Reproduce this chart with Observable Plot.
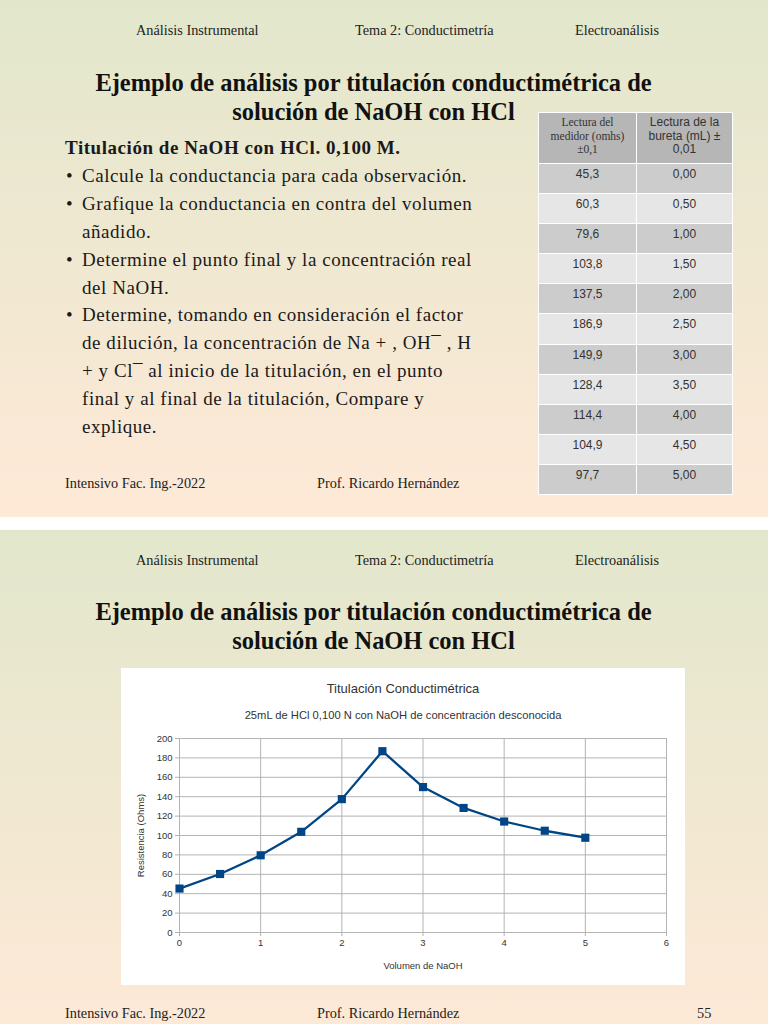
<!DOCTYPE html>
<html>
<head>
<meta charset="utf-8">
<script src="https://cdn.jsdelivr.net/npm/d3@7"></script>
<script src="https://cdn.jsdelivr.net/npm/@observablehq/plot@0.6"></script>
<style>
  html, body { margin: 0; padding: 0; background: #ffffff; }
  body { width: 768px; height: 1024px; position: relative; overflow: hidden; }
  .slide { position: absolute; left: 0; width: 768px; height: 517px;
    background: linear-gradient(#e2e7cc, #fee9d7); }
  .abs { position: absolute; white-space: nowrap; line-height: 1; }
  .hdr { font-family: "Liberation Serif", serif; font-size: 14px; color: #222;
    transform: scaleX(1.02); transform-origin: left center; }
  .title { position: absolute; left: 0; width: 747px; text-align: center;
    font-family: "Liberation Serif", serif; font-weight: bold; font-size: 26px; color: #111;
    line-height: 1; transform: scaleX(0.94); transform-origin: 373.5px center; white-space: nowrap; }
  .body { position: absolute; left: 65px; top: 134px; font-family: "Liberation Serif", serif;
    font-size: 19px; letter-spacing: 0.55px; color: #1a1a1a; line-height: 27.9px; }
  .body div { white-space: nowrap; }
  .body .b { position: relative; padding-left: 17px; }
  .body .b::before { content: "•"; position: absolute; left: 1px; }
  .body .c { padding-left: 17px; }
  table { position: absolute; left: 538px; top: 112px; border-collapse: collapse; width: 195px;
    font-family: "Liberation Sans", sans-serif; font-size: 12px; color: #333; }
  td { border: 1.5px solid #ffffff; text-align: center; vertical-align: top; padding: 3px 2px 0 2px; height: 27px; box-sizing: border-box; }
  tr.h td { background: #b6b6b6; height: 51px; line-height: 13.5px; padding-top: 3px; }
  tr.h td.l { font-family: "Liberation Serif", serif; font-size: 11.5px; }
  tr.d td { background: #cccccc; height: 30.1px; }
  tr.e td { background: #e6e6e6; height: 30.1px; }
  #chartbox { position: absolute; left: 121px; top: 668px; width: 564px; height: 317px; background: #ffffff; }
  .ct { position: absolute; left: 0; width: 564px; text-align: center; font-family: "Liberation Sans", sans-serif; color: #333; line-height: 1; }
  #plot { position: absolute; left: 0; top: 60px; }
</style>
</head>
<body>
<div class="slide" style="top:0"></div>
<div class="slide" style="top:530px"></div>
<div id="page"></div>
<div id="chartbox">
  <div class="ct" style="top:14px; font-size:13px;" id="ctitle"></div>
  <div class="ct" style="top:42px; font-size:11.2px;" id="csub"></div>
  <div id="plot"></div>
</div>
<script>
// ---- data ----
const headerTexts = ["Análisis Instrumental", "Tema 2: Conductimetría", "Electroanálisis"];
const footerTexts = ["Intensivo Fac. Ing.-2022", "Prof. Ricardo Hernández"];
const pageNumber = "55";
const titleLines = ["Ejemplo de análisis por titulación conductimétrica de", "solución de NaOH con HCl"];
const bodyHeading = "Titulación de NaOH con HCl. 0,100 M.";
const bodyLines = [
  ["b", "Calcule la conductancia para cada observación."],
  ["b", "Grafique la conductancia en contra del volumen"],
  ["c", "añadido."],
  ["b", "Determine el punto final y la concentración real"],
  ["c", "del NaOH."],
  ["b", "Determine, tomando en consideración el factor"],
  ["c", "de dilución, la concentración de Na + , OH¯ , H"],
  ["c", "+ y Cl¯ al inicio de la titulación, en el punto"],
  ["c", "final y al final de la titulación, Compare y"],
  ["c", "explique."]
];
const tableHeaderLeft = ["Lectura del", "medidor (omhs)", "±0,1"];
const tableHeaderRight = ["Lectura de la", "bureta (mL) ±", "0,01"];
const resistanceLabels = ["45,3", "60,3", "79,6", "103,8", "137,5", "186,9", "149,9", "128,4", "114,4", "104,9", "97,7"];
const volumeLabels = ["0,00", "0,50", "1,00", "1,50", "2,00", "2,50", "3,00", "3,50", "4,00", "4,50", "5,00"];
const resistance = [45.3, 60.3, 79.6, 103.8, 137.5, 186.9, 149.9, 128.4, 114.4, 104.9, 97.7];
const volume = [0, 0.5, 1, 1.5, 2, 2.5, 3, 3.5, 4, 4.5, 5];
const chartTitle = "Titulación Conductimétrica";
const chartSubtitle = "25mL de HCl 0,100 N con NaOH de concentración desconocida";
const xLabel = "Volumen de NaOH";
const yLabel = "Resistencia (Ohms)";
const xTicks = [0, 1, 2, 3, 4, 5, 6];
const yTicks = [0, 20, 40, 60, 80, 100, 120, 140, 160, 180, 200];

// ---- page text ----
const page = document.getElementById("page");
function add(html, cls, style) {
  const d = document.createElement("div");
  d.className = cls; d.setAttribute("style", style); d.textContent = html;
  page.appendChild(d); return d;
}
const hdrX = [136, 355, 575];
[24, 554].forEach(top => {
  headerTexts.forEach((t, i) => add(t, "abs hdr", `left:${hdrX[i]}px; top:${top}px;`));
});
[[70, 99], [599, 628]].forEach(tops => {
  titleLines.forEach((t, i) => add(t, "title", `top:${tops[i]}px;`));
});
[477, 1007].forEach(top => {
  add(footerTexts[0], "abs hdr", `left:65px; top:${top}px;`);
  add(footerTexts[1], "abs hdr", `left:317px; top:${top}px;`);
});
add(pageNumber, "abs hdr", "left:697px; top:1007px;");

const body = document.createElement("div");
body.className = "body";
const h = document.createElement("div");
h.style.fontWeight = "bold"; h.textContent = bodyHeading; body.appendChild(h);
bodyLines.forEach(([k, t]) => { const d = document.createElement("div"); d.className = k; d.textContent = t; body.appendChild(d); });
page.appendChild(body);

// ---- table ----
const table = document.createElement("table");
const hr = document.createElement("tr"); hr.className = "h";
const hl = document.createElement("td"); hl.className = "l"; hl.innerHTML = tableHeaderLeft.join("<br>");
const hrr = document.createElement("td"); hrr.innerHTML = tableHeaderRight.join("<br>");
hl.style.width = "98px";
hr.appendChild(hl); hr.appendChild(hrr); table.appendChild(hr);
resistanceLabels.forEach((r, i) => {
  const tr = document.createElement("tr"); tr.className = i % 2 === 0 ? "d" : "e";
  const a = document.createElement("td"); a.textContent = r;
  const b = document.createElement("td"); b.textContent = volumeLabels[i];
  tr.appendChild(a); tr.appendChild(b); table.appendChild(tr);
});
page.appendChild(table);

// ---- chart ----
document.getElementById("ctitle").textContent = chartTitle;
document.getElementById("csub").textContent = chartSubtitle;
const data = volume.map((v, i) => ({v, r: resistance[i]}));
const blue = "#004586";
const chart = Plot.plot({
  width: 564, height: 257,
  marginTop: 10, marginBottom: 53, marginLeft: 58, marginRight: 19,
  style: {fontFamily: "Liberation Sans, sans-serif", fontSize: "9.5px", color: "#333", background: "white"},
  x: {domain: [0, 6]},
  y: {domain: [0, 200]},
  marks: [
    Plot.gridX(xTicks, {stroke: "#b3b3b3", strokeOpacity: 1}),
    Plot.gridY(yTicks, {stroke: "#b3b3b3", strokeOpacity: 1}),
    Plot.axisX(xTicks, {tickSize: 4, tickPadding: 3, stroke: "#b3b3b3", label: xLabel, labelAnchor: "center", labelOffset: 36, labelArrow: "none"}),
    Plot.axisY(yTicks, {tickSize: 4, tickPadding: 3, stroke: "#b3b3b3", label: yLabel, labelAnchor: "center", labelOffset: 42, labelArrow: "none"}),
    Plot.ruleX([0], {stroke: "#b3b3b3"}),
    Plot.ruleY([0], {stroke: "#b3b3b3"}),
    Plot.line(data, {x: "v", y: "r", stroke: blue, strokeWidth: 2.3}),
    Plot.dot(data, {x: "v", y: "r", symbol: "square", fill: blue, r: 4.6})
  ]
});
document.getElementById("plot").appendChild(chart);
</script>
</body>
</html>
